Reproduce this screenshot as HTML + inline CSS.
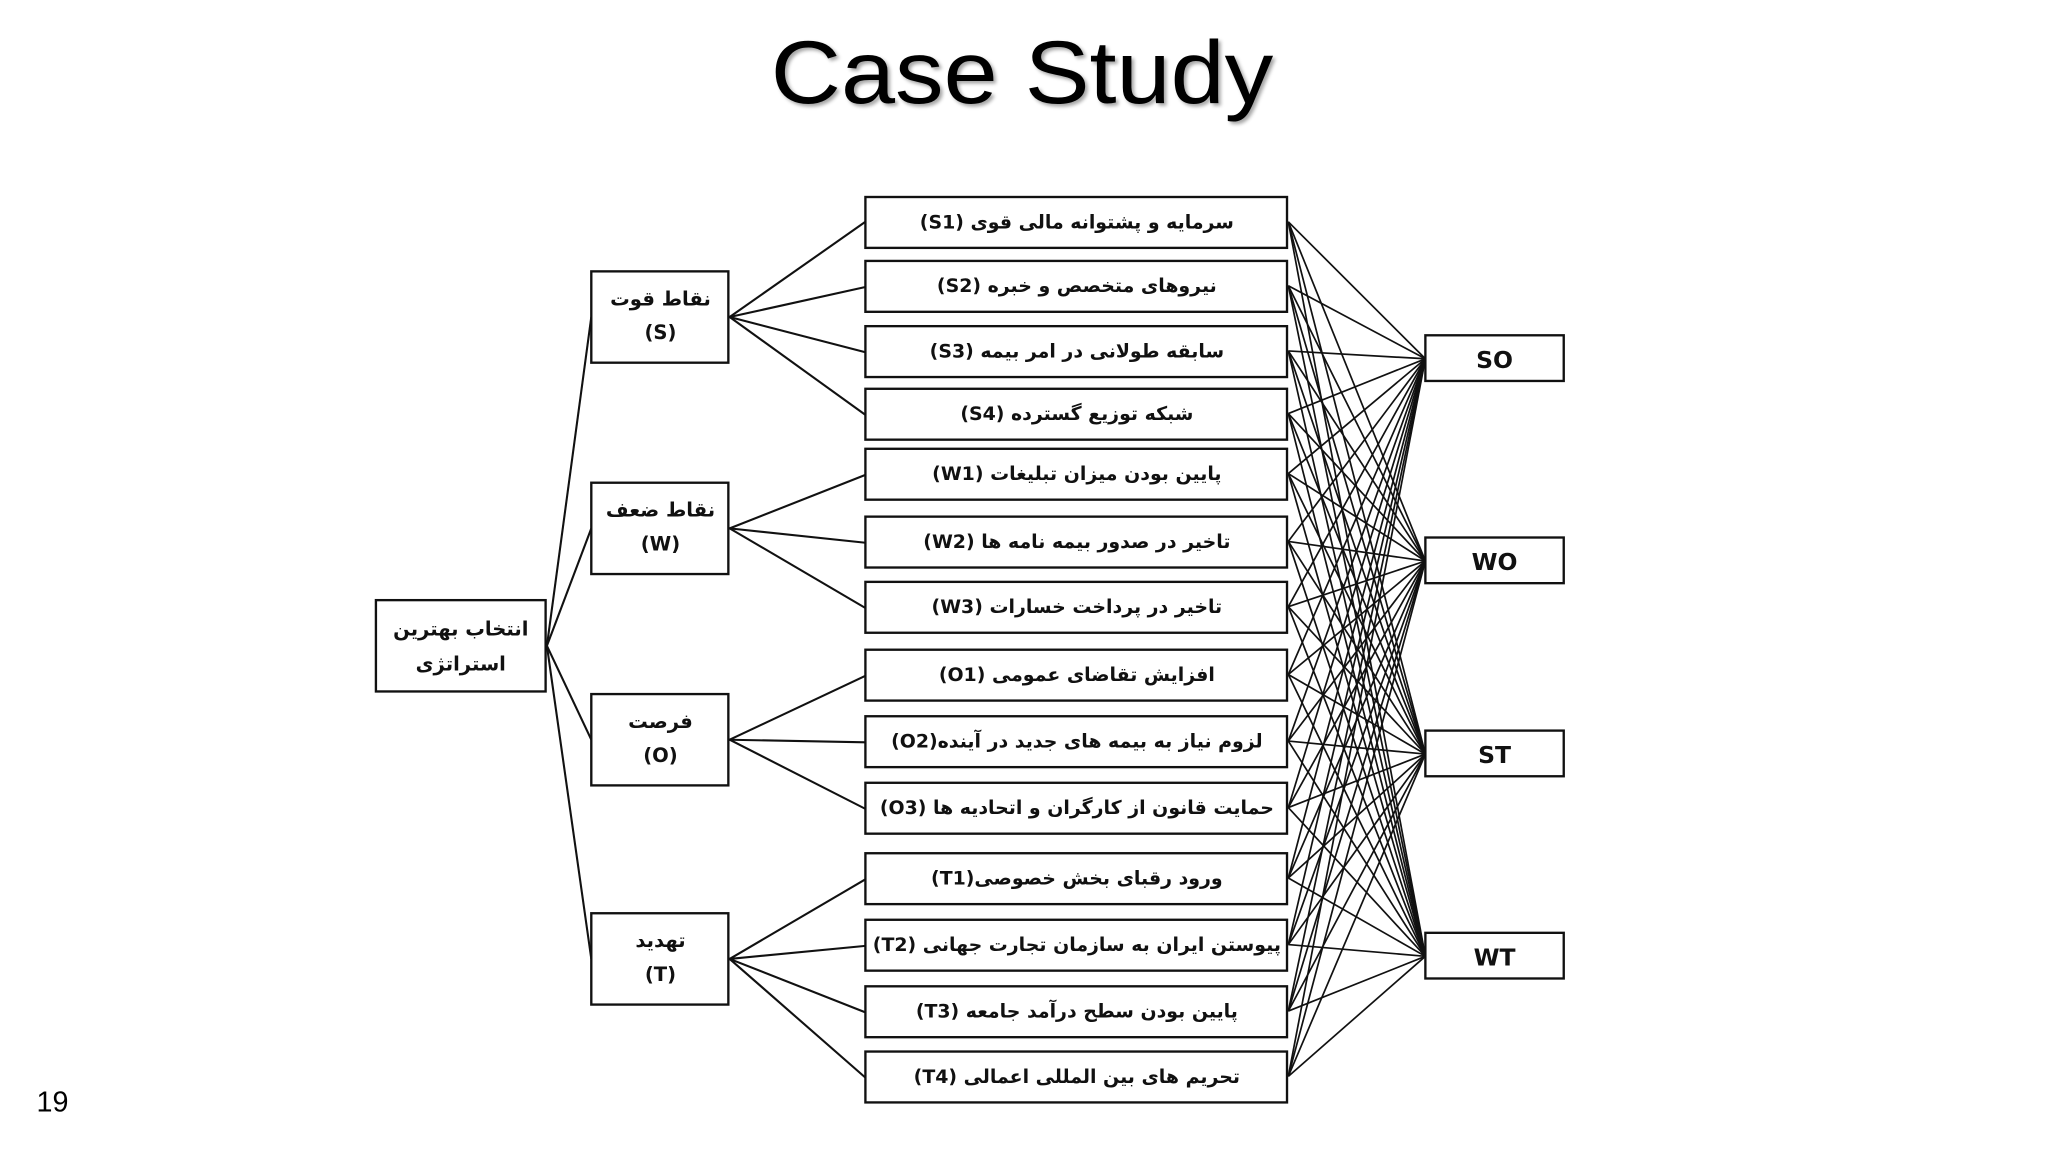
<!DOCTYPE html>
<html><head><meta charset="utf-8"><style>
html,body{margin:0;padding:0;background:#fff;}
svg{display:block}
.t{font-family:"DejaVu Sans","Liberation Sans",sans-serif;font-weight:bold;font-size:14.5px;fill:#111;text-anchor:middle;}
</style></head><body>
<svg width="2048" height="1152" viewBox="0 0 1569 883" preserveAspectRatio="none" xmlns="http://www.w3.org/2000/svg">
<defs><filter id="sh"><feDropShadow dx="2" dy="2" stdDeviation="1.5" flood-color="#000" flood-opacity="0.35"/></filter></defs>
<text x="783" y="79" font-family="Liberation Sans, sans-serif" font-size="68" text-anchor="middle" fill="#000" filter="url(#sh)" textLength="385" lengthAdjust="spacingAndGlyphs">Case Study</text>
<text x="28" y="852" font-family="Liberation Sans, sans-serif" font-size="22" fill="#000">19</text>
<g stroke="#111" stroke-width="1.6" fill="none">
<line x1="419" y1="495" x2="453" y2="243"/>
<line x1="419" y1="495" x2="453" y2="405"/>
<line x1="419" y1="495" x2="453" y2="567"/>
<line x1="419" y1="495" x2="453" y2="735"/>
<line x1="559" y1="243" x2="663" y2="170"/><line x1="559" y1="243" x2="663" y2="220"/><line x1="559" y1="243" x2="663" y2="270"/><line x1="559" y1="243" x2="663" y2="318"/>
<line x1="559" y1="405" x2="663" y2="364"/><line x1="559" y1="405" x2="663" y2="416"/><line x1="559" y1="405" x2="663" y2="466"/>
<line x1="559" y1="567" x2="663" y2="518"/><line x1="559" y1="567" x2="663" y2="569"/><line x1="559" y1="567" x2="663" y2="620"/>
<line x1="559" y1="735" x2="663" y2="674"/><line x1="559" y1="735" x2="663" y2="725"/><line x1="559" y1="735" x2="663" y2="776"/><line x1="559" y1="735" x2="663" y2="826"/>
</g>
<g id="fan" stroke="#111" stroke-width="1.3" fill="none"></g>
<g stroke="#111" stroke-width="1.8" fill="#fff">
<rect x="288" y="460" width="130" height="70"/>
<rect x="453" y="208" width="105" height="70"/>
<rect x="453" y="370" width="105" height="70"/>
<rect x="453" y="532" width="105" height="70"/>
<rect x="453" y="700" width="105" height="70"/>
<rect x="1092" y="257" width="106" height="35"/>
<rect x="1092" y="412" width="106" height="35"/>
<rect x="1092" y="560" width="106" height="35"/>
<rect x="1092" y="715" width="106" height="35"/>
</g>
<g id="mid" stroke="#111" stroke-width="1.8" fill="#fff"></g>
<g class="t">
<text x="353" y="487" font-size="15">انتخاب بهترین</text><text x="353" y="514" font-size="15">استراتژی</text>
<text x="506" y="234" font-size="15">نقاط قوت</text><text x="506" y="260" font-size="15">(S)</text>
<text x="506" y="396" font-size="15">نقاط ضعف</text><text x="506" y="422" font-size="15">(W)</text>
<text x="506" y="558" font-size="15">فرصت</text><text x="506" y="584" font-size="15">(O)</text>
<text x="506" y="726" font-size="15">تهدید</text><text x="506" y="752" font-size="15">(T)</text>
<text x="1145" y="282" font-size="18">SO</text>
<text x="1145" y="437" font-size="18">WO</text>
<text x="1145" y="585" font-size="18">ST</text>
<text x="1145" y="740" font-size="18">WT</text>
</g>
<g id="midt" class="t"></g>
<script>
var ys=[151,200,250,298,344,396,446,498,549,600,654,705,756,806];
var labels=["سرمایه و پشتوانه مالی قوی (S1)","نیروهای متخصص و خبره (S2)","سابقه طولانی در امر بیمه (S3)","شبکه توزیع گسترده (S4)","پایین بودن میزان تبلیغات (W1)","تاخیر در صدور بیمه نامه ها (W2)","تاخیر در پرداخت خسارات (W3)","افزایش تقاضای عمومی (O1)","لزوم نیاز به بیمه های جدید در آینده(O2)","حمایت قانون از کارگران و اتحادیه ها (O3)","ورود رقبای بخش خصوصی(T1)","پیوستن ایران به سازمان تجارت جهانی (T2)","پایین بودن سطح درآمد جامعه (T3)","تحریم های بین المللی اعمالی (T4)"];
var rs=[275,430,578,733];
var NS="http://www.w3.org/2000/svg";
var fan=document.getElementById("fan"),mid=document.getElementById("mid"),mt=document.getElementById("midt");
ys.forEach(function(y,i){
 rs.forEach(function(r){var l=document.createElementNS(NS,"line");l.setAttribute("x1",987);l.setAttribute("y1",y+19);l.setAttribute("x2",1092);l.setAttribute("y2",r);fan.appendChild(l);});
 var b=document.createElementNS(NS,"rect");b.setAttribute("x",663);b.setAttribute("y",y);b.setAttribute("width",323);b.setAttribute("height",39);mid.appendChild(b);
 var t=document.createElementNS(NS,"text");t.setAttribute("x",825);t.setAttribute("y",y+24);t.setAttribute("direction","rtl");t.setAttribute("unicode-bidi","plaintext");t.textContent=labels[i];mt.appendChild(t);
});
</script>
</svg>
</body></html>
